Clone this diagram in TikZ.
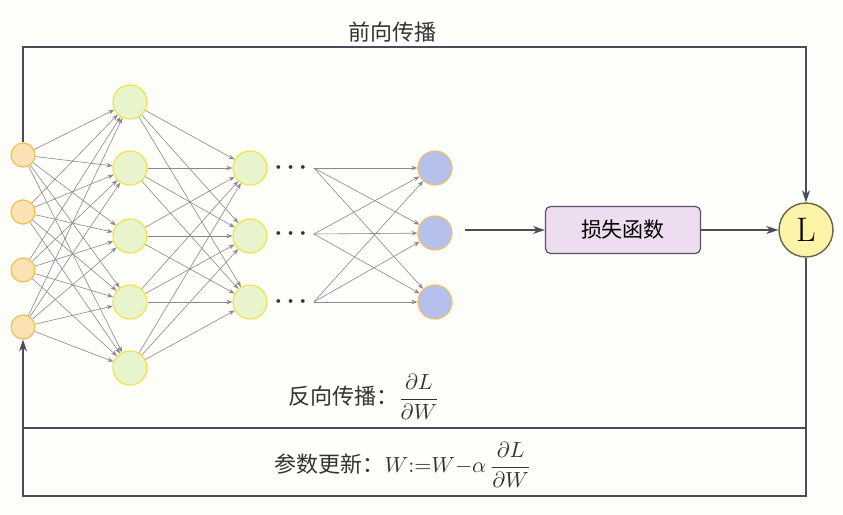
\documentclass[tikz,border=0pt]{standalone}
\usepackage{amsmath}
\usepackage{fontspec}
\newfontfamily\cjk{Noto Sans CJK SC}
\usetikzlibrary{arrows.meta}
\definecolor{inpF}{HTML}{FBE2B4}
\definecolor{inpB}{HTML}{F0C050}
\definecolor{hidF}{HTML}{E8F5CC}
\definecolor{hidB}{HTML}{F2E24A}
\definecolor{outF}{HTML}{B5C0EC}
\definecolor{outB}{HTML}{E9C36A}
\definecolor{lossF}{HTML}{EEDCF0}
\definecolor{lossB}{HTML}{5B5068}
\definecolor{LF}{HTML}{FBF4A8}
\definecolor{LB}{HTML}{6B6245}
\definecolor{connC}{HTML}{8E8690}
\definecolor{frameC}{HTML}{4E4A58}
\definecolor{bgC}{HTML}{FEFEFA}
\begin{document}
\begin{tikzpicture}[x=0.5pt,y=-0.5pt,
  inp/.style={circle, draw=inpB, fill=inpF, line width=0.6pt, minimum size=12pt, inner sep=0pt},
  hid/.style={circle, draw=hidB, fill=hidF, line width=0.6pt, minimum size=17pt, inner sep=0pt},
  outn/.style={circle, draw=outB, fill=outF, line width=0.6pt, minimum size=17pt, inner sep=0pt},
  dotn/.style={inner sep=1pt, text=black!80, font=\large},
  conn/.style={draw=connC, line width=0.3pt, -{Stealth[length=3pt,width=2.2pt]}},
  frame/.style={draw=frameC, line width=0.7pt},
  bigarrow/.style={frame, -{Stealth[length=6pt,width=4pt]}},
  lossbox/.style={draw=lossB, fill=lossF, line width=0.6pt, rounded corners=2.5pt, minimum width=77.5pt, minimum height=23.5pt, font=\cjk\fontsize{10.5}{12}\selectfont},
  lnode/.style={circle, draw=LB, fill=LF, line width=0.7pt, minimum size=27pt, inner sep=0pt, font=\fontsize{17}{19}\selectfont},
  lbl/.style={inner sep=0pt, text=black!80, font=\fontsize{11}{13}\selectfont}
]
\fill[bgC] (0,0) rectangle (843,515);
\useasboundingbox (0,0) rectangle (843,515);

% input layer
\foreach \k/\y in {1/155,2/212,3/270,4/327}
  \node[inp] (i\k) at (23,\y) {};
% hidden layer 1
\foreach \k/\y in {1/102,2/168,3/236,4/302,5/368}
  \node[hid] (h\k) at (130,\y) {};
% hidden layer 2
\foreach \k/\y in {1/168,2/236,3/302}
  \node[hid] (g\k) at (250,\y) {};
% dots
\foreach \k/\y in {1/168,2/234,3/302}
  \node[dotn] (d\k) at (293,\y) {$\boldsymbol{\cdots}$};
% output layer
\foreach \k/\y in {1/168,2/233,3/302}
  \node[outn] (o\k) at (435,\y) {};

% connections
\foreach \a in {1,...,4}
  \foreach \b in {1,...,5}
    \draw[conn] (i\a) -- (h\b);
\foreach \a in {1,...,5}
  \foreach \b in {1,...,3}
    \draw[conn] (h\a) -- (g\b);
\foreach \a in {1,...,3}
  \foreach \b in {1,...,3}
    \draw[conn] (d\a.east) -- (o\b);

% loss and L
\node[lossbox] (loss) at (623,230) {损失函数};
\node[lnode] (L) at (806,230) {L};
\draw[bigarrow] ([xshift=6pt]o2.east |- loss.west) -- (loss.west);
\draw[bigarrow] (loss) -- (L);

% frame coordinates
\coordinate (tl) at (23,47);
\coordinate (tr) at (806,47);
\coordinate (ml) at (23,428);
\coordinate (mr) at (806,428);
\coordinate (bl) at (23,496);
\coordinate (br) at (806,496);

% forward path
\draw[bigarrow] (i1) -- (tl) -- (tr) -- (L);
% backward path
\draw[bigarrow] (L) -- (br) -- (bl) -- (i4);
\draw[frame] (ml) -- (mr);

% labels
\node[lbl] (fwd) at (393,32) {\cjk 前向传播};
\node[lbl] (bp) at (364,397) {{\cjk 反向传播：}$\dfrac{\partial L}{\partial W}$};
\node[lbl] (pu) at (403,465) {{\cjk 参数更新：}$W{:=}W{-}\alpha\,\dfrac{\partial L}{\partial W}$};
\end{tikzpicture}
\end{document}
